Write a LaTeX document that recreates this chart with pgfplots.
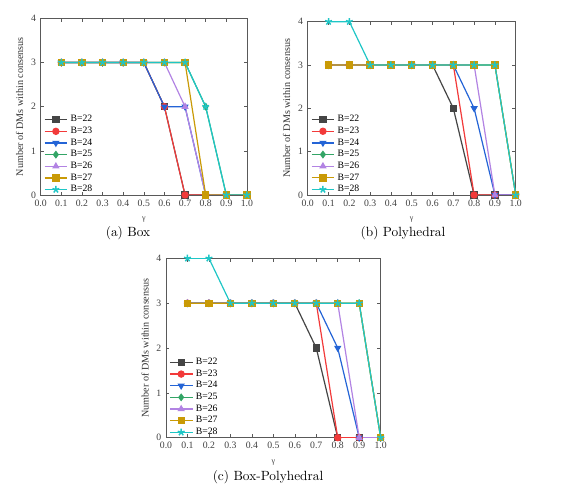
\documentclass[border=0pt]{standalone}
\usepackage{fontspec}
\usepackage{pgfplots}
\usepackage{pgfplotstable}
\pgfplotsset{compat=1.18}
\newfontfamily\tms{Liberation Serif}

% gamma, then B=22 ... B=28
\pgfplotstableread{
g    b22 b23 b24 b25 b26 b27 b28
0.1  3   3   3   3   3   3   3
0.2  3   3   3   3   3   3   3
0.3  3   3   3   3   3   3   3
0.4  3   3   3   3   3   3   3
0.5  3   3   3   3   3   3   3
0.6  2   2   2   3   3   3   3
0.7  0   0   2   3   2   3   3
0.8  0   0   0   2   0   0   2
0.9  0   0   0   0   0   0   0
1.0  0   0   0   0   0   0   0
}\boxdata

\pgfplotstableread{
g    b22 b23 b24 b25 b26 b27 b28
0.1  3   3   3   3   3   3   4
0.2  3   3   3   3   3   3   4
0.3  3   3   3   3   3   3   3
0.4  3   3   3   3   3   3   3
0.5  3   3   3   3   3   3   3
0.6  3   3   3   3   3   3   3
0.7  2   3   3   3   3   3   3
0.8  0   0   2   3   3   3   3
0.9  0   0   0   3   0   3   3
1.0  0   0   0   0   0   0   0
}\polydata

\definecolor{c22}{HTML}{454545}
\definecolor{c23}{HTML}{F23A3A}
\definecolor{c24}{HTML}{2464D6}
\definecolor{c25}{HTML}{33A566}
\definecolor{c26}{HTML}{B283E3}
\definecolor{c27}{HTML}{C99A06}
\definecolor{c28}{HTML}{1FC6C6}

\pgfplotsset{
  dmstyle/.style={
    scale only axis,
    xmin=0, xmax=1, ymin=0, ymax=4,
    xtick={0,0.1,...,1.0}, ytick={0,1,2,3,4},
    tick align=inside, major tick length=2.5pt,
    axis line style={gray!70!black, line width=0.5pt},
    tick style={gray!70!black, line width=0.4pt},
    tick label style={font=\tms\fontsize{7.3}{8}\selectfont, text=black!75},
    /pgf/number format/assume math mode=true,
    xticklabel style={/pgf/number format/.cd, fixed, fixed zerofill, precision=1},
    yticklabel style={/pgf/number format/.cd, fixed, precision=0},
    xtick pos=both, ytick pos=both,
    xlabel={\tms γ}, xlabel style={font=\fontsize{6}{7}\selectfont, text=black!75, yshift=-1pt},
    ylabel={Number of DMs within consensus},
    ylabel style={font=\tms\fontsize{7.6}{8}\selectfont, text=black!80, yshift=-1pt},
    legend style={draw=none, fill=none, at={(-0.005,-0.025)}, anchor=south west,
      font=\tms\fontsize{7.3}{8}\selectfont, row sep=-1.6pt},
    legend cell align=left,
    every axis plot/.append style={line width=0.9pt, mark size=2.3pt},
  },
}

\newcommand{\dmseries}[1]{%
  \addplot[c22, mark=square*] table[x=g, y=b22] {#1};
  \addplot[c23, mark=*] table[x=g, y=b23] {#1};
  \addplot[c24, mark=triangle*, mark options={rotate=180}] table[x=g, y=b24] {#1};
  \addplot[c25, mark=diamond*] table[x=g, y=b25] {#1};
  \addplot[c26, mark=triangle*] table[x=g, y=b26] {#1};
  \addplot[c27, mark=square*] table[x=g, y=b27] {#1};
  \addplot[c28, mark=star, mark options={line width=1.1pt}, mark size=2.7pt] table[x=g, y=b28] {#1};
  \legend{B=22, B=23, B=24, B=25, B=26, B=27, B=28}
}

\begin{document}
\begin{tikzpicture}
  \path (0,0) rectangle (429pt, 372.75pt);

  \begin{axis}[dmstyle, at={(30.5pt,226.5pt)}, anchor=south west,
      width=154.7pt, height=132.5pt]
    \dmseries{\boxdata}
  \end{axis}
  \node at (96pt,198pt) {(a) Box};

  \begin{axis}[dmstyle, at={(230.8pt,226.5pt)}, anchor=south west,
      width=156pt, height=130pt]
    \dmseries{\polydata}
  \end{axis}
  \node at (302.25pt,198pt) {(b) Polyhedral};

  \begin{axis}[dmstyle, at={(124.5pt,44.5pt)}, anchor=south west,
      width=161pt, height=134.5pt]
    \dmseries{\polydata}
  \end{axis}
  \node at (201pt,15pt) {(c) Box-Polyhedral};
\end{tikzpicture}
\end{document}
